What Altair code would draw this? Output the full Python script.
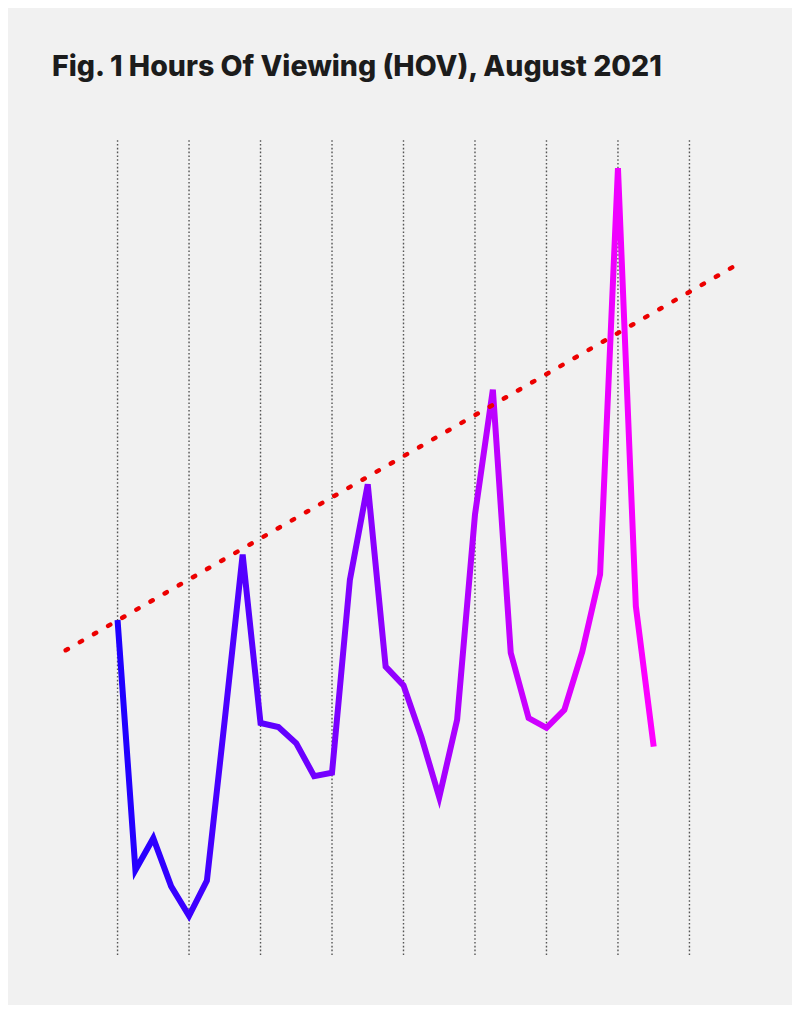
import altair as alt
import pandas as pd

# Daily hours of viewing (relative units), August 2021
days = list(range(1, 32))
hov = [41.0, 10.4, 14.3, 8.4, 4.8, 9.1, 28.8, 49.0, 28.4, 27.9,
       25.9, 21.9, 22.3, 45.9, 57.6, 35.3, 33.0, 26.7, 19.3, 28.8,
       53.9, 69.2, 37.0, 29.0, 27.8, 30.0, 37.1, 46.6, 96.3, 42.7, 25.5]

# vertical guide days
grid_days = [1, 5, 9, 13, 17, 21, 25, 29, 33]

# dotted trend line end points
trend_days = [-1.9, 35.9]
trend_hov = [37.3, 84.8]

df = pd.DataFrame({"day": days, "hov": hov})
grid_df = pd.DataFrame({"day": grid_days})
trend_df = pd.DataFrame({"day": trend_days, "hov": trend_hov})

xs = alt.Scale(domain=[-2.5, 36.5], nice=False, zero=False)
ys = alt.Scale(domain=[0, 100], nice=False, zero=False)

grid = alt.Chart(grid_df).mark_rule(
    color="#555555", strokeWidth=1.4, strokeDash=[1.6, 2.2]
).transform_calculate(
    lo="0", hi="100"
).encode(
    x=alt.X("day:Q", scale=xs, axis=None),
    y=alt.Y("lo:Q", scale=ys, axis=None),
    y2="hi:Q",
)

line = alt.Chart(df).mark_line(
    strokeWidth=6,
    strokeJoin="miter",
    color=alt.Gradient(
        gradient="linear",
        stops=[
            alt.GradientStop(color="#1e00ff", offset=0),
            alt.GradientStop(color="#ff00ff", offset=1),
        ],
        x1=0, x2=1, y1=0, y2=0,
    ),
).encode(
    x=alt.X("day:Q", scale=xs, axis=None),
    y=alt.Y("hov:Q", scale=ys, axis=None),
)

trend = alt.Chart(trend_df).mark_line(
    color="#ec0000", strokeWidth=4.5, strokeDash=[2.5, 13.8], strokeCap="round"
).encode(
    x=alt.X("day:Q", scale=xs, axis=None),
    y=alt.Y("hov:Q", scale=ys, axis=None),
)

chart = alt.layer(grid, line, trend).properties(
    width=697,
    height=817,
    background="#f1f1f1",
    autosize=alt.AutoSizeParams(type="none"),
    padding={"left": 47, "top": 130, "right": 40, "bottom": 50},
    title=alt.TitleParams(
        text="Fig. 1 Hours Of Viewing (HOV), August 2021",
        anchor="start",
        frame="group",
        font="Inter",
        fontSize=28.5,
        fontWeight=800,
        color="#1c1c1c",
        baseline="alphabetic",
        offset=33,
        dx=-3,
    ),
).configure_view(stroke=None)

chart.save("out.html", embed_options={"renderer": "svg", "actions": False})
